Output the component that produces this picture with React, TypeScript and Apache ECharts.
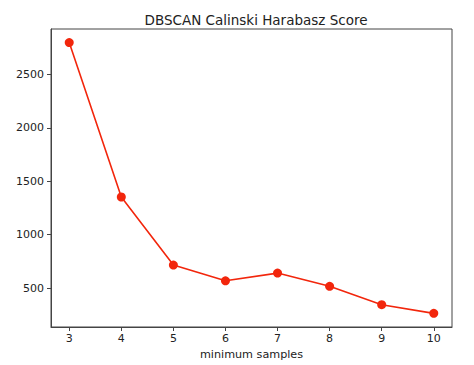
import React, { useEffect, useRef } from "react";
import * as echarts from "echarts";

const minSamples = [3, 4, 5, 6, 7, 8, 9, 10];
const scores = [2800, 1353, 715, 568, 640, 516, 344, 263];
const yTicks = [500, 1000, 1500, 2000, 2500];

export default function App() {
  const ref = useRef<HTMLDivElement>(null);
  useEffect(() => {
    const chart = echarts.init(ref.current!, null, { renderer: "svg" });
    const font = "DejaVu Sans";
    const frame = "#444";
    chart.setOption({
      animation: false,
      backgroundColor: "#fff",
      title: {
        text: "DBSCAN Calinski Harabasz Score",
        left: 251,
        textAlign: "center",
        top: 8,
        textStyle: { fontFamily: font, fontSize: 13.5, fontWeight: "normal", color: "#222" },
      },
      grid: {
        left: 51,
        right: 22,
        top: 29,
        bottom: 38,
        show: true,
        borderColor: frame,
        borderWidth: 1,
        backgroundColor: "transparent",
      },
      xAxis: {
        type: "value",
        min: 2.65,
        max: 10.35,
        name: "minimum samples",
        nameLocation: "middle",
        nameGap: 22,
        nameTextStyle: { fontFamily: font, fontSize: 11.2, color: "#222" },
        splitLine: { show: false },
        axisLine: { show: true, lineStyle: { color: frame } },
        axisTick: { show: true, length: 4, lineStyle: { color: frame }, customValues: minSamples },
        axisLabel: {
          fontFamily: font,
          fontSize: 11,
          color: "#222",
          margin: 6,
          customValues: minSamples,
          formatter: (v: number) => String(v),
        },
      },
      yAxis: {
        type: "value",
        min: 135,
        max: 2927,
        splitLine: { show: false },
        axisLine: { show: true, lineStyle: { color: frame } },
        axisTick: { show: true, length: 4, lineStyle: { color: frame }, customValues: yTicks },
        axisLabel: {
          fontFamily: font,
          fontSize: 11,
          color: "#222",
          margin: 7,
          customValues: yTicks,
          formatter: (v: number) => String(v),
        },
      },
      series: [
        {
          type: "line",
          data: minSamples.map((x, i) => [x, scores[i]]),
          symbol: "circle",
          symbolSize: 9,
          itemStyle: { color: "#f2260c" },
          lineStyle: { color: "#f2260c", width: 1.6 },
        },
      ],
    });
    return () => chart.dispose();
  }, []);
  return <div ref={ref} style={{ width: 474, height: 365, position: "absolute", left: 0, top: 0 }} />;
}
